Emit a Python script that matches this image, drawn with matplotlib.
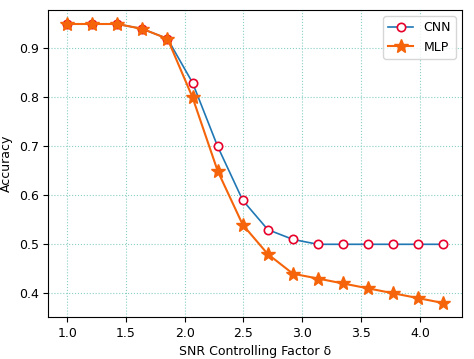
import numpy as np
import matplotlib
matplotlib.use("Agg")
import matplotlib.pyplot as plt

# data
snr = np.linspace(1.0, 4.2, 16)
cnn = [0.95, 0.95, 0.95, 0.94, 0.92, 0.83, 0.70, 0.59, 0.53, 0.51, 0.50, 0.50, 0.50, 0.50, 0.50, 0.50]
mlp = [0.95, 0.95, 0.95, 0.94, 0.92, 0.80, 0.65, 0.54, 0.48, 0.44, 0.43, 0.42, 0.41, 0.40, 0.39, 0.38]

fig, ax = plt.subplots(figsize=(4.74, 3.59), dpi=100)

ax.plot(snr, cnn, color="#1f77b4", linewidth=1.2, marker="o", markersize=6,
        markerfacecolor="white", markeredgecolor="#e8002a", markeredgewidth=1.2,
        label="CNN")
ax.plot(snr, mlp, color="#f5640a", linewidth=1.5, marker="*", markersize=10,
        label="MLP")

ax.grid(True, linestyle=":", color="#88cfc4", linewidth=0.8)
ax.set_xlabel("SNR Controlling Factor δ", fontsize=9)
ax.set_ylabel("Accuracy", fontsize=9)
ax.tick_params(labelsize=9)
ax.legend(loc="upper right", fontsize=9)

fig.subplots_adjust(left=0.102, right=0.975, top=0.972, bottom=0.117)
fig.savefig("out.png", dpi=100)
